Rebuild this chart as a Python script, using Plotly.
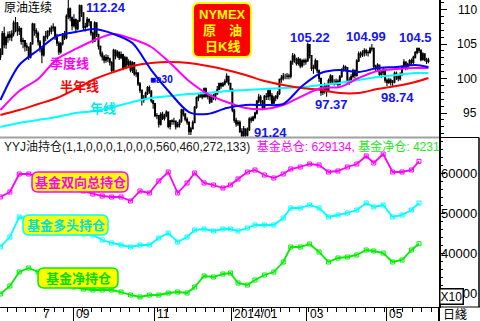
import plotly.graph_objects as go

# ---------------- data ----------------
close = [
    103.14, 103.53, 106.52, 104.91, 105.95, 106.32, 106.00, 106.48, 108.04, 108.05,
    106.91, 107.23, 105.39, 105.49, 104.70, 104.55, 103.08, 105.03, 107.89, 106.94,
    106.56, 105.30, 104.37, 103.40, 106.03, 106.11, 106.83, 106.85, 107.33, 107.46,
    106.10, 105.11, 103.85, 105.03, 106.42, 105.92, 109.01, 110.10, 108.80, 107.65,
    108.54, 107.23, 108.37, 110.53, 109.52, 107.39, 107.55, 108.60, 108.21, 106.59,
    105.42, 108.07, 106.39, 104.67, 103.59, 103.13, 102.66, 103.03, 102.87, 102.33,
    101.18, 104.10, 103.31, 103.84, 103.03, 103.49, 101.61, 103.01, 102.02, 102.41,
    101.21, 102.29, 100.67, 100.81, 99.22, 98.30, 96.86, 97.11, 97.85, 98.68,
    98.20, 96.77, 96.38, 94.61, 94.62, 93.37, 94.80, 94.20, 94.60, 95.14,
    93.04, 93.88, 93.76, 93.84, 93.03, 93.34, 93.85, 95.44, 94.84, 94.09,
    93.68, 92.30, 92.72, 93.61, 95.83, 97.20, 97.38, 97.65, 97.34, 98.51,
    97.44, 97.50, 96.60, 97.48, 97.22, 97.80, 98.40, 99.32, 98.91, 99.22,
    99.55, 100.32, 99.29, 98.42, 95.44, 93.96, 93.43, 93.67, 92.33, 91.66,
    92.72, 91.80, 92.59, 94.17, 93.96, 94.37, 94.99, 96.73, 97.32, 96.64,
    95.72, 97.41, 97.36, 98.23, 97.49, 96.43, 97.19, 97.38, 97.84, 99.88,
    100.06, 100.37, 100.37, 100.35, 100.30, 102.43, 103.31, 102.75, 102.20, 102.82,
    101.83, 102.59, 102.40, 102.59, 104.92, 103.33, 101.45, 101.56, 102.58, 101.12,
    100.03, 97.99, 98.20, 98.89, 98.08, 99.70, 100.37, 99.46, 99.46, 99.60,
    99.19, 100.26, 101.28, 101.67, 101.58, 99.74, 99.62, 100.29, 101.14, 100.44,
    102.56, 103.60, 103.40, 103.74, 104.05, 103.75, 103.76, 104.30, 104.38, 101.75,
    101.44, 101.94, 100.60, 100.84, 101.28, 99.74, 99.42, 99.76, 99.48, 99.50,
    100.77, 100.26, 99.99, 100.59, 101.70, 102.37, 101.50, 102.02, 102.61, 102.33,
    103.07, 103.75, 104.35, 104.11, 102.72, 103.58, 102.71, 102.47, 102.66,
]
high = [
    103.8, 104.4, 106.9, 107.5, 106.2, 106.8, 106.9, 107.0, 108.4, 108.93,
    108.2, 107.6, 107.4, 105.9, 105.6, 105.2, 104.6, 105.3, 108.1, 108.0,
    107.3, 106.8, 105.6, 104.6, 106.2, 106.9, 107.0, 107.4, 107.7, 108.0,
    107.5, 106.5, 105.4, 105.3, 106.6, 106.9, 109.3, 112.24, 110.3, 109.0,
    109.3, 108.7, 108.5, 110.74, 110.7, 109.6, 108.1, 108.9, 108.7, 108.3,
    106.8, 108.3, 108.1, 106.5, 104.8, 103.9, 103.4, 103.5, 103.4, 103.0,
    102.5, 104.3, 104.2, 104.1, 103.9, 103.9, 103.6, 103.3, 103.2, 102.8,
    102.6, 102.5, 102.4, 101.3, 100.9, 99.5, 98.4, 97.6, 98.1, 98.9,
    99.0, 98.3, 96.9, 96.5, 95.0, 94.7, 95.1, 95.2, 94.9, 95.4,
    95.2, 94.0, 94.1, 94.3, 93.9, 93.7, 94.1, 95.6, 95.6, 95.0,
    94.4, 93.7, 93.0, 93.9, 96.0, 97.4, 97.9, 98.0, 98.0, 98.7,
    98.7, 97.9, 97.6, 97.7, 97.8, 98.0, 98.9, 99.4, 99.4, 99.5,
    99.9, 100.75, 100.4, 99.4, 98.6, 95.6, 94.3, 94.0, 93.9, 92.8,
    93.1, 92.8, 92.9, 94.4, 94.5, 94.6, 95.2, 96.9, 97.8, 97.6,
    96.9, 97.6, 97.9, 98.4, 98.4, 97.9, 97.5, 97.6, 98.2, 100.0,
    100.5, 100.8, 100.7, 100.8, 100.7, 102.6, 103.7, 103.6, 103.0, 103.1,
    102.9, 102.8, 102.9, 102.9, 105.22, 105.0, 103.4, 102.0, 102.9, 102.6,
    101.3, 100.1, 98.9, 99.4, 99.2, 100.0, 100.6, 100.5, 99.9, 100.0,
    99.9, 100.5, 101.5, 102.0, 101.9, 101.6, 100.2, 100.6, 101.4, 101.3,
    102.8, 103.9, 103.9, 104.1, 104.4, 104.3, 104.1, 104.6, 104.99, 104.5,
    102.0, 102.2, 102.0, 101.2, 101.6, 101.4, 100.0, 100.1, 100.0, 99.8,
    101.0, 101.0, 100.6, 100.9, 101.9, 102.8, 102.5, 102.3, 102.8, 102.9,
    103.3, 104.0, 104.5, 104.5, 104.2, 103.8, 103.6, 103.0, 103.0,
]
low = [
    102.3, 102.7, 103.4, 104.4, 104.3, 105.2, 105.5, 105.4, 106.1, 106.7,
    106.2, 106.3, 104.9, 104.4, 103.9, 104.0, 102.7, 102.9, 104.9, 106.2,
    105.9, 104.8, 103.8, 102.2, 103.2, 105.4, 105.7, 106.2, 106.4, 106.8,
    105.6, 104.7, 103.4, 103.6, 104.8, 105.6, 105.7, 108.6, 108.3, 107.0,
    107.4, 106.7, 107.0, 108.2, 108.9, 106.9, 106.8, 107.4, 107.6, 106.2,
    105.1, 105.3, 106.0, 104.2, 103.2, 102.6, 102.2, 102.3, 102.4, 101.9,
    100.8, 101.0, 102.8, 103.0, 102.7, 102.8, 101.2, 101.4, 101.6, 101.7,
    100.9, 100.8, 100.4, 100.2, 98.9, 97.9, 96.1, 96.5, 96.9, 97.6,
    97.8, 96.5, 95.6, 94.4, 94.1, 92.9, 93.2, 94.0, 93.9, 94.4,
    92.8, 92.6, 93.3, 93.3, 92.6, 92.9, 92.9, 93.6, 94.5, 93.8,
    93.3, 91.8, 91.8, 92.6, 93.5, 95.6, 96.7, 97.2, 97.0, 97.3,
    97.2, 97.0, 96.3, 96.5, 96.9, 96.8, 97.6, 98.3, 98.5, 98.8,
    99.0, 99.4, 99.0, 98.1, 95.1, 93.6, 93.0, 93.1, 92.1, 91.24,
    91.5, 91.5, 91.6, 92.4, 93.6, 93.8, 94.1, 94.8, 96.4, 96.2,
    95.4, 95.6, 96.9, 96.9, 96.8, 96.1, 96.3, 96.7, 97.0, 97.6,
    99.4, 99.7, 99.9, 99.9, 99.9, 100.0, 102.0, 102.3, 101.9, 101.9,
    101.5, 101.6, 101.9, 102.0, 102.4, 102.9, 101.1, 100.7, 101.3, 100.8,
    99.5, 97.5, 97.6, 97.8, 97.37, 98.0, 99.3, 99.1, 99.0, 99.1,
    98.8, 99.0, 100.1, 101.0, 101.0, 99.3, 99.1, 99.4, 100.0, 100.0,
    100.3, 102.4, 103.0, 103.1, 103.2, 103.3, 103.2, 103.6, 103.9, 101.5,
    101.0, 101.0, 100.4, 100.1, 100.5, 99.4, 98.9, 99.2, 99.0, 98.74,
    99.3, 99.8, 99.6, 99.7, 100.4, 101.4, 101.2, 101.3, 101.8, 102.0,
    102.1, 102.9, 103.5, 103.7, 102.5, 102.6, 102.5, 102.1, 102.2,
]
first_open = 102.90

ma_idx = [1, 11, 21, 31, 41, 51, 61, 71, 81, 91, 101, 111, 121, 131, 141, 151,
          161, 171, 181, 191, 201, 211, 221, 228]
ma30 = [96.88, 101.96, 104.13, 106.16, 106.74, 107.17, 106.45, 105.14, 101.23, 97.90,
        95.14, 94.86, 95.72, 96.16, 96.16, 96.30, 98.91, 100.80, 101.23, 100.94,
        101.52, 101.67, 101.96, 101.67]
ma60 = [95.43, 98.19, 99.93, 102.83, 104.28, 105.58, 106.45, 105.72, 104.57, 102.25,
        99.64, 97.75, 96.59, 95.72, 95.58, 96.16, 97.46, 98.62, 98.77, 100.07,
        101.09, 101.38, 101.52, 101.52]
ma120 = [94.71, 95.43, 96.30, 97.17, 98.48, 99.93, 100.94, 101.81, 102.25, 102.39,
         102.25, 101.81, 101.23, 100.51, 99.64, 99.06, 98.62, 98.33, 97.90, 97.90,
         98.48, 98.91, 99.49, 100.07]
ma250 = [92.97, 93.55, 93.99, 94.42, 95.00, 95.29, 95.87, 96.59, 97.17, 97.46,
         97.75, 97.90, 98.19, 98.33, 98.48, 98.62, 98.77, 99.06, 99.35, 99.78,
         100.22, 100.51, 100.80, 100.80]

week_idx = [1, 6, 11, 16, 21, 26, 31, 36, 40, 45, 50, 55, 60, 65, 70, 75, 80, 85, 90, 95,
            100, 104, 109, 114, 119, 123, 127, 132, 136, 141, 146, 151, 155, 160, 165,
            170, 175, 180, 185, 190, 195, 199, 204, 209, 214, 219, 223]
fund_total = [54000, 55250, 59750, 59750, 59250, 58250, 57250, 56500, 56000, 55500,
              54750, 54250, 54000, 54000, 53000, 55500, 55000, 58000, 60250, 55000,
              57500, 60000, 57500, 57000, 56250, 57000, 58500, 60250, 60750, 59500,
              58750, 59750, 61000, 61500, 62250, 62000, 60250, 60500, 61500, 62250,
              64250, 62500, 64750, 60250, 60250, 60750, 62913]
fund_long = [41500, 44000, 49000, 48750, 48250, 47250, 46250, 45500, 45000, 44750,
             44500, 43250, 42500, 42000, 41500, 42000, 42000, 43750, 45000, 42750,
             44000, 45750, 46000, 45500, 46000, 46000, 45500, 46250, 47000, 47000,
             47000, 48750, 51250, 51250, 52000, 51250, 49000, 49500, 50000, 50750,
             52500, 51500, 52000, 49000, 49500, 50750, 52500]
fund_net = [29750, 31750, 35250, 36250, 35250, 34000, 32750, 32000, 31500, 31000,
            30750, 30750, 30750, 30250, 29500, 29000, 29500, 29500, 30000, 30250,
            30000, 31500, 34250, 34000, 34750, 35000, 32500, 32000, 33250, 34500,
            35250, 37750, 41500, 41500, 42250, 40250, 37750, 38750, 39000, 39500,
            40750, 40500, 40000, 37750, 38250, 40750, 42310]

price_ticks = [95, 100, 105, 110]
pos_ticks = [30000, 40000, 50000, 60000]
month_pos = [39.5, 82.5, 123.5, 163.5, 205.5]
label_pos = [22.0, 39.5, 82.5, 123.5, 163.5, 205.5]
label_text = ["7", "09", "11", "2014/01", "03", "05"]
extreme_vals = [112.24, 105.22, 104.99, 104.5, 97.37, 98.74, 91.24]
title_total = 629134
title_net = "4231"

# ---------------- layout helpers ----------------
PW, PH = 439.0, 307.0


def X(p):
    return p / PW


def Y(p):
    return 1 - p / PH


SPLIT = Y(137.5)
CJK = "Liberation Sans, Noto Sans CJK SC, sans-serif"

days = list(range(len(close)))
opens = [first_open] + close[:-1]

fig = go.Figure()
fig.add_trace(go.Candlestick(
    x=days, open=opens, high=high, low=low, close=close, xaxis="x", yaxis="y",
    increasing=dict(line=dict(color="black", width=1.1), fillcolor="black"),
    decreasing=dict(line=dict(color="black", width=1.1), fillcolor="black"),
    whiskerwidth=0, hoverinfo="skip", showlegend=False))

for ys, col in [(ma250, "#00ffff"), (ma120, "#ff0000"), (ma60, "#ff00ff"), (ma30, "#0000ff")]:
    fig.add_trace(go.Scatter(x=ma_idx, y=ys, mode="lines", xaxis="x", yaxis="y",
                             line=dict(color=col, width=2, shape="spline", smoothing=0.8),
                             hoverinfo="skip", showlegend=False))

for ys, col in [(fund_total, "#ff00ff"), (fund_long, "#00ffff"), (fund_net, "#00ee00")]:
    fig.add_trace(go.Scatter(x=week_idx, y=ys, mode="lines+markers", xaxis="x2", yaxis="y2",
                             line=dict(color=col, width=1.8),
                             marker=dict(symbol="square-open", size=4, color=col, line=dict(width=1)),
                             hoverinfo="skip", showlegend=False))

xr = [0.78, 233.6]
fig.update_layout(
    width=480, height=321, margin=dict(l=0, r=41, t=0, b=14, pad=0),
    paper_bgcolor="white", plot_bgcolor="white", showlegend=False,
    font=dict(family=CJK, size=12, color="black"),
    xaxis=dict(domain=[0, 1], range=xr, anchor="y", showticklabels=False, ticks="",
               showgrid=False, zeroline=False, showline=False, rangeslider=dict(visible=False)),
    xaxis2=dict(domain=[0, 1], range=xr, anchor="y2", showticklabels=False, showgrid=False,
                zeroline=False, showline=True, linecolor="black", linewidth=1,
                tickmode="array", tickvals=month_pos, ticks="outside", ticklen=14,
                tickcolor="black", tickwidth=1,
                minor=dict(tickmode="linear", tick0=39.5, dtick=5, ticks="outside",
                           ticklen=4, tickcolor="black", tickwidth=1, showgrid=False)),
    yaxis=dict(domain=[SPLIT, 1], range=[91.45, 111.38], anchor="x", side="right",
               showgrid=False, zeroline=False, showline=True, linecolor="black", linewidth=2,
               tickmode="array", tickvals=price_ticks, ticks="outside", ticklen=6,
               tickcolor="black", showticklabels=False,
               minor=dict(tickmode="linear", tick0=95, dtick=1, ticks="outside", ticklen=3,
                          tickcolor="black", showgrid=False)),
    yaxis2=dict(domain=[0, SPLIT], range=[26500, 68875], anchor="x2", side="right",
                showgrid=False, zeroline=False, showline=True, linecolor="black", linewidth=2,
                tickmode="array", tickvals=pos_ticks, ticks="outside", ticklen=4,
                tickcolor="black", showticklabels=False,
                minor=dict(tickmode="linear", tick0=30000, dtick=2000, ticks="outside",
                           ticklen=2, tickcolor="black", showgrid=False)),
)


def rrect(x0, y0, x1, y1, r):
    return (f"M {X(x0 + r)},{Y(y0)} L {X(x1 - r)},{Y(y0)} Q {X(x1)},{Y(y0)} {X(x1)},{Y(y0 + r)} "
            f"L {X(x1)},{Y(y1 - r)} Q {X(x1)},{Y(y1)} {X(x1 - r)},{Y(y1)} "
            f"L {X(x0 + r)},{Y(y1)} Q {X(x0)},{Y(y1)} {X(x0)},{Y(y1 - r)} "
            f"L {X(x0)},{Y(y0 + r)} Q {X(x0)},{Y(y0)} {X(x0 + r)},{Y(y0)} Z")


shapes = [
    dict(type="line", xref="paper", yref="paper", x0=0, x1=1, y0=SPLIT, y1=SPLIT,
         line=dict(color="#a0a0a0", width=2)),
    dict(type="line", xref="paper", yref="paper", x0=1, x1=X(479), y0=SPLIT, y1=SPLIT,
         line=dict(color="black", width=1)),
    dict(type="line", xref="paper", yref="paper", x0=X(479), x1=X(479), y0=SPLIT, y1=0,
         line=dict(color="black", width=1.5)),
    dict(type="line", xref="paper", yref="paper", x0=1, x1=X(481), y0=0, y1=0,
         line=dict(color="black", width=1)),
    dict(type="line", xref="paper", yref="paper", x0=1, x1=1, y0=0, y1=Y(322),
         line=dict(color="black", width=2)),
    dict(type="path", xref="paper", yref="paper", path=rrect(193, 3, 251, 57, 6),
         fillcolor="#ff0000", line=dict(color="#ffff00", width=2)),
    dict(type="path", xref="paper", yref="paper", path=rrect(32, 172, 128, 192, 6),
         fillcolor="#ffff00", line=dict(color="#ff00ff", width=1.5)),
    dict(type="path", xref="paper", yref="paper", path=rrect(23, 215, 108, 235, 6),
         fillcolor="#ffff00", line=dict(color="#00ffff", width=1.5)),
    dict(type="path", xref="paper", yref="paper", path=rrect(38, 268, 118, 288, 6),
         fillcolor="#ffff00", line=dict(color="#00ee00", width=1.5)),
]
fig.update_layout(shapes=shapes)

ann = []


def add(text, x, y, size=12, color="black", xanchor="center", yanchor="middle", **kw):
    ann.append(dict(text=text, x=x, y=y, xref=kw.pop("xref", "paper"), yref=kw.pop("yref", "paper"),
                    xanchor=xanchor, yanchor=yanchor, showarrow=False,
                    font=dict(size=size, color=color, family=kw.pop("family", CJK)), **kw))


# right-axis tick labels
for v in price_ticks:
    add(str(v), X(479), v, 12, xanchor="right", yref="y")
for v in pos_ticks:
    add(str(v), X(479), v, 13, xanchor="right", yref="y2")
# x-axis labels
for p, t in zip(label_pos, label_text):
    add(t, p, Y(313.5), 12, xanchor="left", xref="x2", xshift=1)
add("日綫", X(441), Y(314.5), 12, xanchor="left")
add("X10", X(451.5), Y(296), 12, bgcolor="white", bordercolor="black", borderwidth=1.5, borderpad=0)

# titles
add("原油连续", X(2), Y(7.5), 12, xanchor="left")
add("YYJ油持仓(1,1,0,0,0,1,0,0,0,560,460,272,133)\u00a0\u00a0"
    f"<span style='color:#ff00ff'>基金总仓: {title_total},</span> "
    f"<span style='color:#22e822'>基金净仓: {title_net}</span>",
    X(2), Y(146.5), 12, color="#202020", xanchor="left")

# NYMEX box
add("<b>NYMEX</b>", X(222), Y(14.5), 13, color="#ffff00")
add("<b>原\u3000油</b>", X(222), Y(30.5), 13, color="#ffff00")
add("<b>日K线</b>", X(222), Y(46), 13, color="#ffff00")

# MA labels
add("<b>季度线</b>", X(69), Y(64), 13, color="#ff00ff")
add("<b>半年线</b>", X(79.5), Y(86), 13, color="#ff0000")
add("<b>年线</b>", X(102.5), Y(109), 13, color="#00e8e8")
add("<b>■a30</b>", X(161.5), Y(79), 10, color="#0000ff")

# extreme price labels
ext_pos = [(106, 7.5), (310, 37.5), (366, 36.5), (415, 37.5), (331, 104.5), (397, 98), (270, 132.5)]
for v, (ex, ey) in zip(extreme_vals, ext_pos):
    add(f"<b>{v}</b>", X(ex), Y(ey), 13, color="#1414ff")

# fund labels
add("<b>基金双向总持仓</b>", X(80), Y(182), 13, color="#ff00ff")
add("<b>基金多头持仓</b>", X(65.5), Y(225), 13, color="#00e0e0")
add("<b>基金净持仓</b>", X(78), Y(278), 13, color="#00dd00")

fig.update_layout(annotations=ann)
fig.write_html("out.html")
